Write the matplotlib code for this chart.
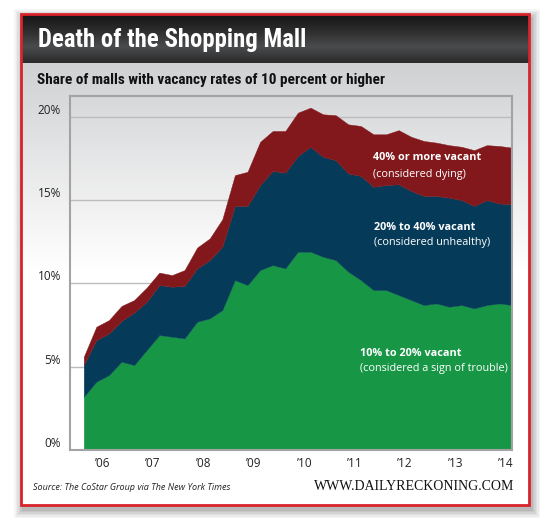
import numpy as np
import matplotlib.pyplot as plt
from matplotlib.patches import Rectangle
from matplotlib.colors import LinearSegmentedColormap

# quarters from 2005 Q3 to 2014 Q1
start_year, start_q = 2005, 3
n_quarters = 35

# share of malls (%) in each vacancy band
low_band = [3.2, 4.1, 4.5, 5.3, 5.1, 6.0, 6.9, 6.8, 6.7, 7.7, 7.9, 8.4,
            10.2, 9.9, 10.8, 11.1, 10.9, 11.9, 11.9, 11.6, 11.4, 10.7, 10.2,
            9.6, 9.6, 9.3, 9.0, 8.7, 8.8, 8.6, 8.7, 8.5, 8.7, 8.8, 8.7]
mid_band = [1.9, 2.5, 2.5, 2.45, 3.15, 2.9, 3.0, 3.0, 3.15, 3.2, 3.5, 3.8,
            4.45, 4.75, 5.1, 5.65, 5.75, 5.75, 6.3, 6.0, 6.0, 5.9, 6.25,
            6.2, 6.3, 6.65, 6.55, 6.55, 6.45, 6.55, 6.3, 6.15, 6.3, 6.0, 6.05]
high_band = [0.5, 0.8, 0.8, 0.9, 0.75, 0.85, 0.75, 0.7, 0.95, 1.25, 1.3, 1.65,
             1.85, 2.05, 2.6, 2.4, 2.5, 2.6, 2.35, 2.55, 2.7, 2.95, 3.0,
             3.15, 3.05, 3.25, 3.25, 3.3, 3.2, 3.15, 3.2, 3.35, 3.3, 3.45, 3.4]

year_ticks = [2006, 2007, 2008, 2009, 2010, 2011, 2012, 2013, 2014]
year_labels = ['\u201906', '\u201907', '\u201908', '\u201909', '\u201910',
               '\u201911', '\u201912', '\u201913', '\u201914']
pct_ticks = [0, 5, 10, 15, 20]
pct_labels = ['0%', '5%', '10%', '15%', '20%']

GREEN = '#179746'
BLUE = '#053b58'
RED = '#82181c'

x = start_year + (start_q - 1) * 0.25 + 0.125 + 0.25 * np.arange(n_quarters)

W, H = 550, 531
fig = plt.figure(figsize=(W / 100, H / 100), dpi=100)
fig.patch.set_facecolor('white')

# background drawn in pixel coordinates
bg = fig.add_axes([0, 0, 1, 1], zorder=0)
bg.set_xlim(0, W)
bg.set_ylim(H, 0)
bg.axis('off')

# soft shadow around the box
for i, a in enumerate([0.04, 0.04, 0.05, 0.05, 0.06, 0.07]):
    d = 9 - i * 1.5
    bg.add_patch(Rectangle((21 - d + 2, 14 - d + 4), 508 + 2 * d, 491 + 2 * d,
                           facecolor='black', alpha=a, edgecolor='none', lw=0))
bg.add_patch(Rectangle((21, 14), 508, 491, facecolor='white', edgecolor='none'))

grad = np.linspace(0, 1, 256).reshape(-1, 1)
cm_body = LinearSegmentedColormap.from_list('body', ['#d0d1d3', '#ffffff'])
bg.imshow(grad, extent=[21, 529, 270, 63], cmap=cm_body, aspect='auto',
          interpolation='bicubic', zorder=1)
cm_head = LinearSegmentedColormap.from_list(
    'head', ['#141414', '#2c2c2c', '#4a4b4d', '#2a2a2a'])
bg.imshow(grad, extent=[21, 529, 63, 14], cmap=cm_head, aspect='auto',
          interpolation='bicubic', zorder=1)
bg.add_patch(Rectangle((21, 14), 508, 491, facecolor='none',
                       edgecolor='#d8232a', lw=2, zorder=3))

narrow = ['Roboto Condensed', 'Liberation Sans']
bg.text(38, 47.5, 'Death of the Shopping Mall', color='white', fontsize=17.8,
        fontweight='bold', family=narrow, va='baseline', ha='left', zorder=4)
bg.text(37, 84, 'Share of malls with vacancy rates of 10 percent or higher',
        color='#111111', fontsize=11, fontweight='bold', family=narrow,
        va='baseline', ha='left', zorder=4)
bg.text(33, 487, 'Source: The CoStar Group via The New York Times',
        color='#222222', fontsize=6.5, style='italic', family='Open Sans',
        va='center', ha='left', zorder=4)
bg.text(514, 486, 'WWW.DAILYRECKONING.COM', color='#111111', fontsize=10,
        family='Liberation Serif', va='center', ha='right', zorder=4)

# main chart
ax = fig.add_axes([69.5 / W, 1 - 450 / H, (512 - 69.5) / W, (450 - 96) / H],
                  zorder=2)
ax.set_facecolor('none')
ax.stackplot(x, low_band, mid_band, high_band, colors=[GREEN, BLUE, RED],
             edgecolor='face', linewidth=0.3, zorder=2)
ax.set_xlim(x[0] - 0.283, x[-1])
ax.set_ylim(0, 21.25)
ax.set_xticks(year_ticks)
ax.set_xticklabels(year_labels)
ax.set_yticks(pct_ticks)
ax.set_yticklabels(pct_labels)
for lab in ax.get_yticklabels():
    lab.set_verticalalignment('bottom')
ax.tick_params(length=0, labelsize=8.5, colors='#222222')
ax.tick_params(axis='x', pad=5)
ax.tick_params(axis='y', pad=6)
for lab in ax.get_xticklabels() + ax.get_yticklabels():
    lab.set_family('Open Sans')
ax.grid(axis='y', color='#bcbcbc', lw=1)
ax.grid(axis='x', visible=False)
ax.set_axisbelow(True)
for sp in ax.spines.values():
    sp.set_color('#a3a3a3')
    sp.set_linewidth(1.5)

# band labels, drawn on the chart axes but placed in pixel coordinates
band_labels = [
    (373, 158, '40% or more vacant', 'bold'),
    (373, 174, '(considered dying)', 'normal'),
    (374, 227, '20% to 40% vacant', 'bold'),
    (374, 242, '(considered unhealthy)', 'normal'),
    (360, 354, '10% to 20% vacant', 'bold'),
    (360, 369, '(considered a sign of trouble)', 'normal'),
]
for px, py, txt, wt in band_labels:
    ax.text(px, py, txt, transform=bg.transData, fontsize=7.8, fontweight=wt,
            color='white', family='Open Sans', ha='left', va='center', zorder=4)

fig.savefig('out.png', dpi=100)
